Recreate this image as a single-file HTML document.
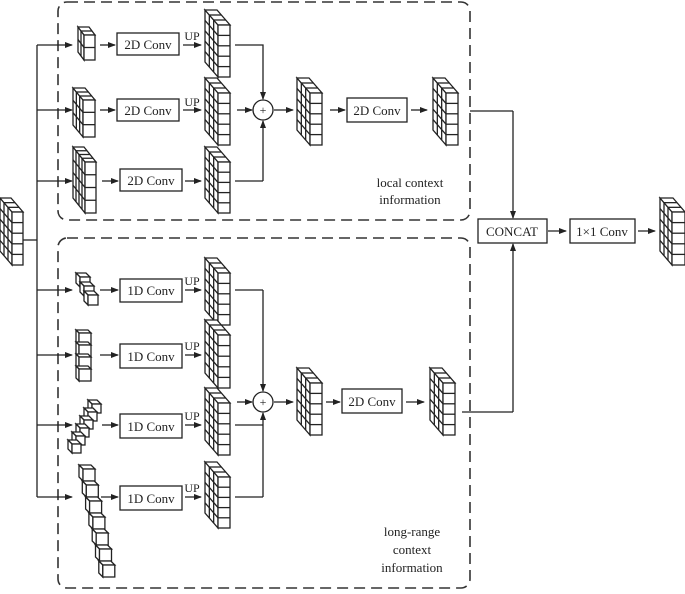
<!DOCTYPE html>
<html><head><meta charset="utf-8"><style>
html,body{margin:0;padding:0;background:#fff;}
svg{display:block;font-family:"Liberation Serif",serif;}
</style></head><body>
<svg id="s" width="685" height="594" viewBox="0 0 685 594" xmlns="http://www.w3.org/2000/svg">
<defs><marker id="a" markerWidth="8" markerHeight="8" refX="7" refY="4" orient="auto" markerUnits="userSpaceOnUse"><path d="M0,1 L8,4 L0,7 Z" fill="#222"/></marker></defs>
<g fill="none" stroke="#333" stroke-width="1.6" stroke-dasharray="11,6">
<rect x="58" y="2" width="412" height="218" rx="9"/>
<rect x="58" y="238" width="412" height="350" rx="9"/>
</g>
<g id="g" stroke="#222" stroke-width="1.3" fill="none"></g>
<g font-size="13" fill="#222" text-anchor="middle">
<text x="148" y="49">2D Conv</text><text x="148" y="115">2D Conv</text><text x="151" y="185">2D Conv</text>
<text x="377" y="115">2D Conv</text>
<text x="151" y="295">1D Conv</text><text x="151" y="361">1D Conv</text><text x="151" y="431">1D Conv</text><text x="151" y="503">1D Conv</text>
<text x="372" y="406">2D Conv</text>
<text x="512" y="236">CONCAT</text><text x="602" y="236">1×1 Conv</text>
<text x="192" y="40" font-size="12">UP</text><text x="192" y="106" font-size="12">UP</text>
<text x="192" y="285" font-size="12">UP</text><text x="192" y="350" font-size="12">UP</text><text x="192" y="420" font-size="12">UP</text><text x="192" y="492" font-size="12">UP</text>
<text x="410" y="187">local context</text><text x="410" y="204">information</text>
<text x="412" y="536">long-range</text><text x="412" y="554">context</text><text x="412" y="572">information</text>
<text x="263" y="114" font-size="12">+</text><text x="263" y="406" font-size="12">+</text>
</g>
</svg>
<script>
var g=document.getElementById('g'),h='';
function L(x1,y1,x2,y2,ar){h+='<line x1="'+x1+'" y1="'+y1+'" x2="'+x2+'" y2="'+y2+'"'+(ar?' marker-end="url(#a)"':'')+'/>';}
function P(pts){h+='<polyline points="'+pts+'"/>';}
function A(x1,x2,y){L(x1,y,x2,y,1);}
function R(x,y,w,hh){h+='<rect x="'+x+'" y="'+y+'" width="'+w+'" height="'+hh+'" fill="#fff"/>';}
function fm(x,y,w,hh,rows,depth,sx,sy){
 var fw=w-sx,fh=hh-sy,fx=x+sx,fy=y+sy;
 h+='<polygon points="'+fx+','+fy+' '+x+','+y+' '+x+','+(y+fh)+' '+fx+','+(fy+fh)+'" fill="#fff"/>';
 h+='<polygon points="'+x+','+y+' '+(x+fw)+','+y+' '+(fx+fw)+','+fy+' '+fx+','+fy+'" fill="#fff"/>';
 R(fx,fy,fw,fh);
 for(var i=1;i<rows;i++){var yy=fy+fh*i/rows;L(fx,yy,fx+fw,yy);L(x,yy-sy,fx,yy);}
 for(var k=1;k<depth;k++){var dx=x+sx*k/depth,dy=y+sy*k/depth;L(dx,dy,dx,dy+fh);L(dx,dy,dx+fw,dy);}
}
function cube(x,y,s,d){
 h+='<polygon points="'+(x-d)+','+(y-d)+' '+(x+s-d)+','+(y-d)+' '+(x+s)+','+y+' '+x+','+y+'" fill="#fff"/>';
 h+='<polygon points="'+(x-d)+','+(y-d)+' '+x+','+y+' '+x+','+(y+s)+' '+(x-d)+','+(y+s-d)+'" fill="#fff"/>';
 R(x,y,s,s);
}
// trunk
L(22,240,37,240);L(37,45,37,497);
[45,110,181,290,355,425,497].forEach(function(y){A(37,72,y);});
// input/output
fm(0,198,23,67,5,3,12,14);fm(660,198,25,67,5,3,12,14);
// top row
fm(78,27,17,33,2,2,6,8);A(100,115,45);R(117,33,62,22);A(183,201,45);fm(205,10,25,67,5,3,13,15);
fm(73,88,22,49,3,3,10,12);A(100,115,110);R(117,99,62,22);A(183,201,110);fm(205,78,25,67,5,3,13,15);
fm(73,147,23,66,4,4,12,15);A(102,118,181);R(120,169,62,22);A(185,201,181);fm(205,147,25,66,5,3,13,15);
P('235,45 263,45 263,99');h=h.replace(/(points="235,45 263,45 263,99")/,'$1 marker-end="url(#a)"');
L(235,181,263,181);L(263,181,263,121,1);A(237,252,110);
h+='<circle cx="263" cy="110" r="10" fill="#fff"/>';
A(274,293,110);fm(297,78,25,67,5,3,13,15);A(330,345,110);R(347,98,60,24);A(411,427,110);fm(433,78,25,67,5,3,13,15);
L(470,111,513,111);L(513,111,513,218,1);
R(478,219,69,24);A(548,566,231);R(570,219,65,24);A(638,655,231);
// bottom row
for(var i=0;i<3;i++)cube(80+i*4,277+i*9,10,4);A(100,118,290);R(120,279,62,23);A(185,201,290);fm(205,258,25,67,5,3,13,15);
for(var i=0;i<4;i++)cube(79,333+i*12,12,3);A(100,118,355);R(120,344,62,24);A(185,201,355);fm(205,320,25,68,5,3,13,15);
for(var i=0;i<6;i++)cube(92-i*4,404+i*8,9,4);A(102,118,425);R(120,414,62,24);A(185,201,425);fm(205,388,25,67,5,3,13,15);
for(var i=0;i<7;i++)cube(83+i*3.3,469+i*16,12,4);A(101,118,497);R(120,486,62,24);A(185,201,497);fm(205,462,25,66,5,3,13,15);
L(235,290,263,290);L(263,290,263,391,1);A(237,252,402);L(235,425,263,425);L(235,497,263,497);L(263,497,263,413,1);
h+='<circle cx="263" cy="402" r="10" fill="#fff"/>';
A(274,293,402);fm(297,368,25,67,5,3,13,15);A(326,340,402);R(342,389,60,24);A(406,424,402);fm(430,368,25,67,5,3,13,15);
L(462,412,513,412);L(513,412,513,244,1);
g.innerHTML=h;
</script>
</body></html>
